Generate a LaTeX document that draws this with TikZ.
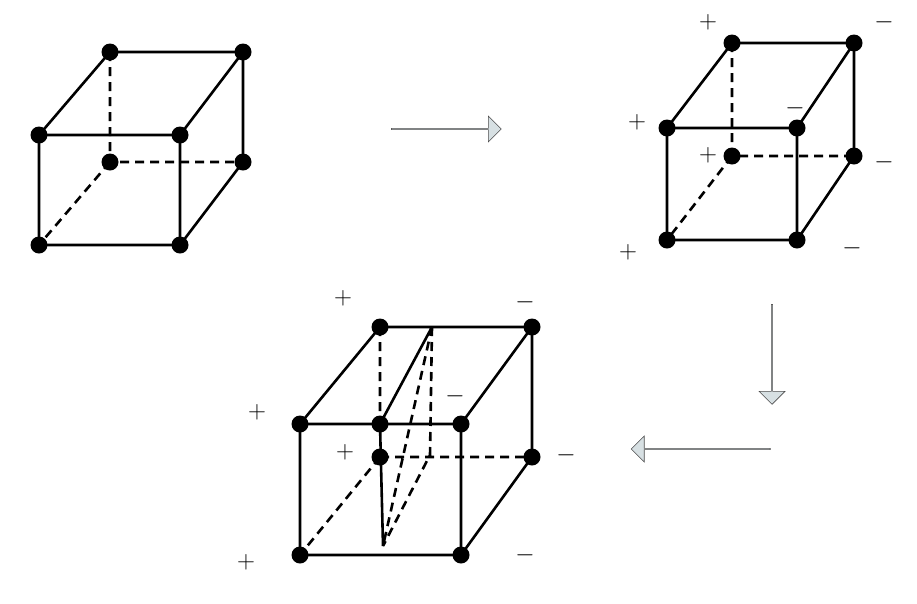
\documentclass[tikz,border=0pt]{standalone}
\usetikzlibrary{shapes.arrows}
\begin{document}
\begin{tikzpicture}[x=1pt,y=-1pt,
 edge/.style={line width=2.6pt},
 hid/.style={line width=2.6pt,dash pattern=on 9pt off 6pt},
 dot/.style={circle,fill=black,inner sep=0pt,minimum width=15pt,minimum height=17pt},
 sgn/.style={font=\fontsize{30}{30}\selectfont},
 barrow/.style={single arrow,draw=black!70,fill=cyan!20!gray!30,line width=0.6pt,single arrow head extend=6pt,inner sep=0pt,minimum height=110pt,minimum width=26pt}]
\useasboundingbox (0,0) rectangle (917,603);
% cube 1
\foreach \n/\x/\y in {a/39/135,b/180/135,c/180/245,d/39/245,e/110/52,f/243/52,g/243/162,h/110/162}
  \coordinate (\n) at (\x,\y);
\draw[edge] (a)--(b)--(c)--(d)--cycle (a)--(e)--(f)--(b) (f)--(g)--(c);
\draw[hid] (e)--(h)--(g) (h)--(d);
\foreach \n in {a,b,c,d,e,f,g,h} \node[dot] (d1\n) at (\n) {};
% arrows
\node[barrow,minimum height=110pt] (ar1) at (446,129) {};
\node[barrow,minimum height=100pt,rotate=-90] (ar2) at (772,354) {};
\node[barrow,minimum height=139pt,rotate=180] (ar3) at (701,449) {};
% cube 2
\foreach \n/\x/\y in {a/667/128,b/797/128,c/797/240,d/667/240,e/732/43,f/854/43,g/854/156,h/732/156}
  \coordinate (\n) at (\x,\y);
\draw[edge] (a)--(b)--(c)--(d)--cycle (a)--(e)--(f)--(b) (f)--(g)--(c);
\draw[hid] (e)--(h)--(g) (h)--(d);
\foreach \n in {a,b,c,d,e,f,g,h} \node[dot] (d2\n) at (\n) {};
\node[sgn] (s1) at (708,22) {$+$};
\node[sgn] (s2) at (884,22) {$-$};
\node[sgn] (s3) at (637,122) {$+$};
\node[sgn] (s4) at (795,108) {$-$};
\node[sgn] (s5) at (708,155) {$+$};
\node[sgn] (s6) at (884,162) {$-$};
\node[sgn] (s7) at (628,252) {$+$};
\node[sgn] (s8) at (852,248) {$-$};
% cube 3
\foreach \n/\x/\y in {a/300/424,b/461/424,c/461/555,d/300/555,e/380/327,f/532/327,g/532/457,h/380/457,m/380/424,t/432/327,u/430/455,v/383/546}
  \coordinate (\n) at (\x,\y);
\draw[edge] (a)--(b)--(c)--(d)--cycle (a)--(e)--(f)--(b) (f)--(g)--(c) (m)--(v) (m)--(t);
\draw[hid] (e)--(m) (h)--(g) (h)--(d) (t)--(u)--(v) (t)--(v);
\foreach \n in {a,b,c,d,e,f,g,h,m} \node[dot] (d3\n) at (\n) {};
\node[sgn] (t1) at (343,298) {$+$};
\node[sgn] (t2) at (525,302) {$-$};
\node[sgn] (t3) at (257,412) {$+$};
\node[sgn] (t4) at (455,396) {$-$};
\node[sgn] (t5) at (345,452) {$+$};
\node[sgn] (t6) at (566,455) {$-$};
\node[sgn] (t7) at (246,562) {$+$};
\node[sgn] (t8) at (525,555) {$-$};
\end{tikzpicture}
\end{document}
